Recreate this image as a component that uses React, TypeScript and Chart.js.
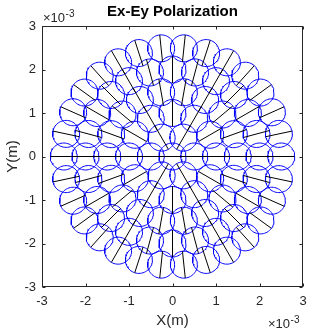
import React, { useEffect, useRef } from 'react';
import { Chart, registerables } from 'chart.js';

Chart.register(...registerables);

// ---- data (units of 1e-3 m) ----
const xTicks = [-3, -2, -1, 0, 1, 2, 3];
const yTicks = [-3, -2, -1, 0, 1, 2, 3];
// sample rings: radius, number of points, start angle
const ringRadii = [0, 0.5, 1.0, 1.5, 2.0, 2.5];
const ringCounts = [1, 6, 12, 18, 24, 30];
const ringStartDeg = [0, 0, 0, 0, 0, 0];
// polarization amplitude (circle radius / half-length of the radial line)
const circleRadius = 0.31;
const lineHalf = 0.31;

const FONT = '"Liberation Sans", Arial, Helvetica, sans-serif';

function forEachPoint(fn: (cx: number, cy: number, a: number) => void) {
  ringRadii.forEach((r, i) => {
    for (let k = 0; k < ringCounts[i]; k++) {
      const a = ((ringStartDeg[i] + (360 * k) / ringCounts[i]) * Math.PI) / 180;
      fn(r * Math.cos(a), r * Math.sin(a), a);
    }
  });
}

function buildCircles() {
  const pts: { x: number; y: number | null }[] = [];
  forEachPoint((cx, cy) => {
    for (let s = 0; s <= 60; s++) {
      const t = (s / 60) * 2 * Math.PI;
      pts.push({ x: cx + circleRadius * Math.cos(t), y: cy + circleRadius * Math.sin(t) });
    }
    pts.push({ x: cx, y: null });
  });
  return pts;
}

function buildLines() {
  const pts: { x: number; y: number | null }[] = [];
  forEachPoint((cx, cy, a) => {
    const c = Math.cos(a);
    const s = Math.sin(a);
    pts.push({ x: cx - lineHalf * c, y: cy - lineHalf * s });
    pts.push({ x: cx + lineHalf * c, y: cy + lineHalf * s });
    pts.push({ x: cx, y: null });
  });
  return pts;
}

const matlabBox = {
  id: 'matlabBox',
  afterDraw(chart: any) {
    const { ctx, chartArea } = chart;
    const { left, right, top, bottom } = chartArea;
    const xs = chart.scales.x;
    const ys = chart.scales.y;
    ctx.save();
    ctx.strokeStyle = '#262626';
    ctx.lineWidth = 1;
    const L = Math.round(left) + 0.5;
    const R = Math.round(right) - 0.5;
    const T = Math.round(top) + 0.5;
    const B = Math.round(bottom) - 0.5;
    ctx.strokeRect(L, T, R - L, B - T);
    const tl = 3;
    ctx.beginPath();
    xTicks.forEach((v) => {
      const p = Math.round(xs.getPixelForValue(v)) + 0.5;
      ctx.moveTo(p, B);
      ctx.lineTo(p, B - tl);
      ctx.moveTo(p, T);
      ctx.lineTo(p, T + tl);
    });
    yTicks.forEach((v) => {
      const p = Math.round(ys.getPixelForValue(v)) + 0.5;
      ctx.moveTo(L, p);
      ctx.lineTo(L + tl, p);
      ctx.moveTo(R, p);
      ctx.lineTo(R - tl, p);
    });
    ctx.stroke();

    // exponent labels
    ctx.fillStyle = '#262626';
    ctx.textBaseline = 'alphabetic';
    ctx.textAlign = 'left';
    const drawExp = (x0: number, y0: number) => {
      ctx.font = `13px ${FONT}`;
      const base = '\u00d710';
      ctx.fillText(base, x0, y0);
      const w = ctx.measureText(base).width;
      ctx.font = `10px ${FONT}`;
      ctx.fillText('-3', x0 + w + 0.5, y0 - 5);
    };
    drawExp(left + 1, top - 4);
    drawExp(right - 35, bottom + 41);
    ctx.restore();
  },
};

export default function App() {
  const ref = useRef<HTMLCanvasElement>(null);
  useEffect(() => {
    if (!ref.current) return;
    const chart = new Chart(ref.current, {
      type: 'scatter',
      data: {
        datasets: [
          {
            data: buildLines() as any,
            showLine: true,
            borderColor: '#000000',
            borderWidth: 1,
            pointRadius: 0,
            spanGaps: false,
            order: 0,
          },
          {
            data: buildCircles() as any,
            showLine: true,
            borderColor: '#0000ff',
            borderWidth: 1,
            pointRadius: 0,
            spanGaps: false,
            order: 1,
          },
        ],
      },
      options: {
        animation: false,
        responsive: false,
        devicePixelRatio: 1,
        events: [],
        layout: { padding: { left: 0, right: 20, top: 0, bottom: 0 } },
        plugins: {
          legend: { display: false },
          tooltip: { enabled: false },
          title: {
            display: true,
            fullSize: false,
            text: 'Ex-Ey Polarization',
            color: '#000000',
            font: { family: FONT, size: 15, weight: 'bold', lineHeight: 1.2 },
            padding: { top: 3, bottom: 5 },
          },
        },
        scales: {
          x: {
            type: 'linear',
            min: -3,
            max: 3,
            grid: { display: false, drawTicks: false },
            border: { display: false },
            afterFit: (s: any) => {
              s.height = 44;
            },
            afterBuildTicks: (s: any) => {
              s.ticks = xTicks.map((v) => ({ value: v }));
            },
            ticks: {
              padding: 7,
              color: '#262626',
              font: { family: FONT, size: 13 },
              callback: (v: any) => String(v),
            },
            title: {
              display: true,
              text: 'X(m)',
              color: '#262626',
              font: { family: FONT, size: 15, lineHeight: 1.2 },
              padding: { top: 0, bottom: 1 },
            },
          },
          y: {
            type: 'linear',
            min: -3,
            max: 3,
            grid: { display: false, drawTicks: false },
            border: { display: false },
            afterFit: (s: any) => {
              s.width = 42;
            },
            afterBuildTicks: (s: any) => {
              s.ticks = yTicks.map((v) => ({ value: v }));
            },
            ticks: {
              padding: 6,
              color: '#262626',
              font: { family: FONT, size: 13 },
              callback: (v: any) => String(v),
            },
            title: {
              display: true,
              text: 'Y(m)',
              color: '#262626',
              font: { family: FONT, size: 15, lineHeight: 1.2 },
              padding: { top: 4, bottom: 0 },
            },
          },
        },
      },
      plugins: [matlabBox],
    });
    return () => chart.destroy();
  }, []);
  return (
    <div style={{ position: 'fixed', left: 0, top: 0, width: 323, height: 331, background: '#fff' }}>
      <canvas ref={ref} width={323} height={331} style={{ display: 'block' }} />
    </div>
  );
}
